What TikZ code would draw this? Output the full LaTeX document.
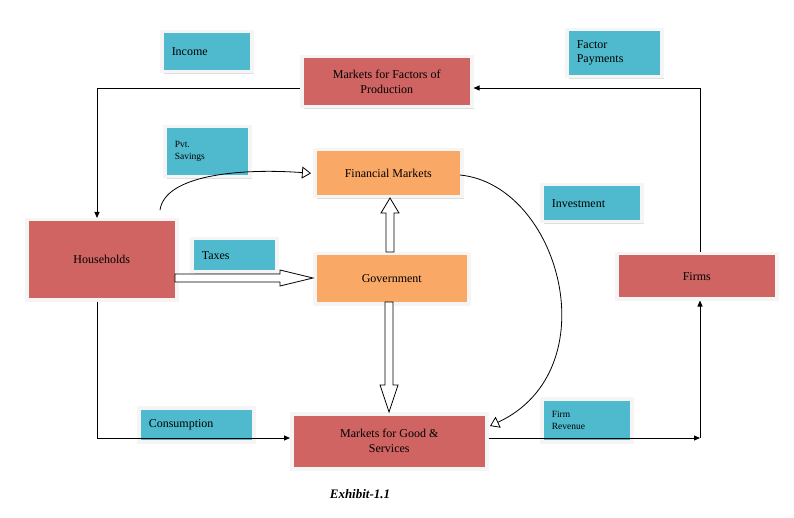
\documentclass[tikz,border=0pt]{standalone}
\usepackage{fontspec}
\setmainfont{Liberation Serif}
\usetikzlibrary{arrows.meta,shadows,calc}
\definecolor{redb}{HTML}{CF6462}
\definecolor{orb}{HTML}{F9A866}
\definecolor{cyb}{HTML}{4FBACE}
\begin{document}
\begin{tikzpicture}[x=1pt,y=-1pt,
 frame/.style={draw=gray!8,line width=3.5pt,drop shadow={opacity=0.25,shadow xshift=2pt,shadow yshift=-2pt}},
 big/.style={frame,anchor=north west,align=center,font=\fontsize{12}{15}\selectfont,inner sep=0pt},
 red/.style={big,fill=redb},
 ora/.style={big,fill=orb},
 lab/.style={frame,fill=cyb,anchor=north west,align=left,inner xsep=10pt,inner ysep=0pt,font=\fontsize{12}{14}\selectfont},
 small/.style={font=\fontsize{9.5}{12}\selectfont},
 ln/.style={draw=black,line width=0.8pt},
 arr/.style={ln,-{Triangle[length=6pt,width=5pt]}},
 harr/.style={ln,-{Triangle[open,length=9pt,width=12pt]}},
 fat/.style={draw=black,fill=white,line width=0.8pt}]
\useasboundingbox (0,0) rectangle (794,518);
\node[lab,minimum width=90,minimum height=40,text width=70] (inc) at (160,30) {Income};
\node[red,minimum width=170,minimum height=50] (mfp) at (300,55) {Markets for Factors of\\Production};
\node[lab,minimum width=95,minimum height=47,text width=75] (fp) at (565,28) {Factor\\Payments};
\node[lab,small,minimum width=85,minimum height=50,text width=65] (pvt) at (163,125) {Pvt.\\Savings};
\node[ora,minimum width=147,minimum height=47] (fm) at (313,148) {Financial Markets};
\node[lab,minimum width=100,minimum height=37,text width=80] (inv) at (540,183) {Investment};
\node[red,minimum width=150,minimum height=80] (hh) at (25,218) {Households};
\node[lab,minimum width=85,minimum height=33,text width=65] (tax) at (190,237) {Taxes};
\node[ora,minimum width=154,minimum height=50] (gov) at (313,252) {Government};
\node[red,minimum width=160,minimum height=45] (firms) at (615,252) {Firms};
\node[lab,minimum width=115,minimum height=34,text width=95] (con) at (137,406) {Consumption};
\node[red,minimum width=195,minimum height=55] (mgs) at (290,412) {Markets for Good \&\\Services};
\node[lab,small,minimum width=90,minimum height=43,text width=70] (fr) at (540,397) {Firm\\Revenue};
\node[font=\bfseries\itshape\fontsize{13}{15}\selectfont] (ex) at (360,494) {Exhibit-1.1};
\coordinate (c1) at (97,88);
\coordinate (c2) at (700,88);
\coordinate (c3) at (97,438);
\coordinate (c4) at (700,438);
\draw[ln] (mfp.west|-c1) -- (c1);
\draw[arr] (c1) -- (hh.north-|c1);
\draw[ln] (firms.north-|c2) -- (c2);
\draw[arr] (c2) -- (mfp.east|-c2);
\draw[ln] (hh.south-|c3) -- (c3);
\draw[arr] (c3) -- (mgs.west|-c3);
\draw[arr] (mgs.east|-c4) -- (c4);
\draw[arr] (c4) -- (firms.south-|c4);
\coordinate (h1) at (160,210);
\draw[harr] (h1) .. controls (165,175) and (240,168) .. ($(fm.west)+(-2,0)$);
\coordinate (f1) at (460,175);
\draw[harr] (f1) .. controls (560,185) and (610,370) .. (490,426);
% fat arrows
\draw[fat] (386,252) -- (386,213) -- (381,213) -- (390,198) -- (399,213) -- (394,213) -- (394,252) -- cycle;
\draw[fat] (385,302) -- (385,385) -- (380,385) -- (389,412) -- (398,385) -- (393,385) -- (393,302) -- cycle;
\draw[fat] (175,274) -- (280,274) -- (280,270) -- (313,278) -- (280,286) -- (280,282) -- (175,282) -- cycle;
\end{tikzpicture}
\end{document}
